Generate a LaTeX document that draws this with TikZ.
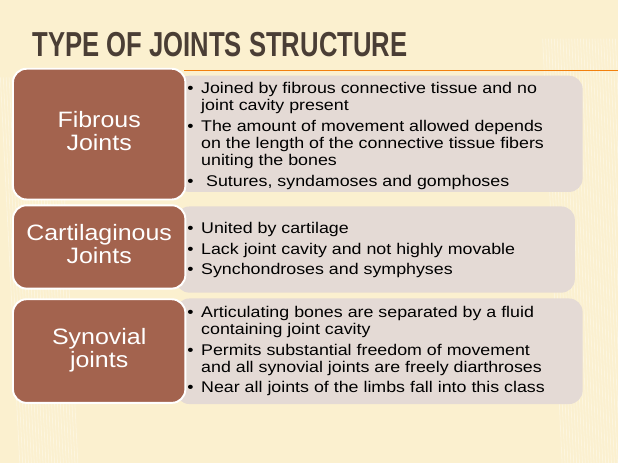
\documentclass[tikz,border=0pt]{standalone}
\usepackage{fontspec}
\usepackage{graphicx}
\setmainfont{Liberation Sans}
\begin{document}
\begin{tikzpicture}[x=1pt,y=-1pt,
  brownbox/.style={draw=white,line width=2pt,fill=brn,rounded corners=14pt},
  lightbox/.style={fill=lgt,rounded corners=14pt},
  lbl/.style={text=white,align=center},
  body/.style={anchor=north west,inner sep=0pt}]
\definecolor{brn}{HTML}{A3634E}
\definecolor{lgt}{HTML}{E4DAD5}
\definecolor{bg}{HTML}{FBF0CF}
\definecolor{ttl}{HTML}{4A3E35}
\newcommand{\itm}[1]{\par\hangindent=12.3pt\hangafter=1\noindent\makebox[12.3pt][l]{•}#1\par\vspace{4pt}}
\newcommand{\bodytext}[1]{\scalebox{1.15}[1]{\parbox[t]{340pt}{\fontsize{16}{17.5}\selectfont\raggedright #1}}}
\newcommand{\lbltext}[2]{\scalebox{1.12}[1]{\fontsize{23}{26}\selectfont\begin{tabular}{@{}c@{}}#1\\[-2pt]#2\end{tabular}}}
\fill[bg] (0,0) rectangle (638,478);
\foreach \i in {0,3,...,60} \draw[white,opacity=0.35,line width=0.8pt] (\i,80) -- (\i+20,478);
\foreach \i in {560,563,...,638} \draw[white,opacity=0.35,line width=0.8pt] (\i,40) -- (\i+20,478);
\useasboundingbox (0,0) rectangle (638,478);
\draw[orange!80!brown,line width=1pt] (190,73) -- (638,73);
\node[anchor=base west,text=ttl,inner sep=0pt] (t) at (33,58) {\resizebox{387pt}{25pt}{\bfseries TYPE OF JOINTS STRUCTURE}};
% light boxes
\node[lightbox,minimum width=420pt,minimum height=120pt,anchor=north west] (l1) at (181,78) {};
\node[lightbox,minimum width=412pt,minimum height=89pt,anchor=north west] (l2) at (181,213) {};
\node[lightbox,minimum width=420pt,minimum height=109pt,anchor=north west] (l3) at (181,308) {};
% brown boxes
\node[brownbox,lbl,minimum width=178pt,minimum height=135pt,anchor=north west] (b1) at (12,70) {\lbltext{Fibrous}{Joints}};
\node[brownbox,lbl,minimum width=178pt,minimum height=86pt,anchor=north west] (b2) at (12,211) {\lbltext{Cartilaginous}{Joints}};
\node[brownbox,lbl,minimum width=178pt,minimum height=107pt,anchor=north west] (b3) at (12,308) {\lbltext{Synovial}{joints}};
\node[body] (x1) at (193,85) {\bodytext{\itm{Joined by fibrous connective tissue and no\newline joint cavity present}\itm{The amount of movement allowed depends\newline on the length of the connective tissue fibers\newline uniting the bones}\itm{\ Sutures,\ syndamoses and\ gomphoses}}};
\node[body] (x2) at (193,229) {\bodytext{\itm{United by cartilage}\itm{Lack joint cavity and not highly movable}\itm{Synchondroses and symphyses}}};
\node[body] (x3) at (193,316) {\bodytext{\itm{Articulating bones are separated by a fluid\newline containing joint cavity}\itm{Permits substantial freedom of movement\newline and all synovial joints are freely diarthroses}\itm{Near all joints of the limbs fall into this class}}};
\end{tikzpicture}
\end{document}
